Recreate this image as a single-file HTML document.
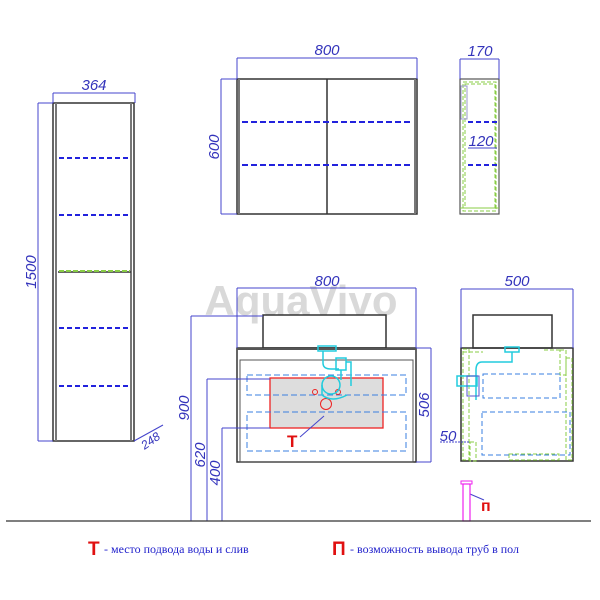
<!DOCTYPE html>
<html><head><meta charset="utf-8"><style>
html,body{margin:0;padding:0;background:#fff;}
svg{display:block;font-family:"Liberation Sans",sans-serif;}
</style></head><body>
<svg width="600" height="600" viewBox="0 0 600 600">
<text x="301" y="315" font-size="42" font-weight="bold" fill="#d9d9d9" text-anchor="middle">AquaVivo</text>
<g fill="none" stroke-width="1">
<rect x="53" y="103" width="81" height="338" stroke="#333" stroke-width="1.5"/>
<line x1="56" y1="103" x2="56" y2="441" stroke="#777" stroke-width="2"/>
<line x1="131" y1="103" x2="131" y2="441" stroke="#777" stroke-width="2"/>
<g stroke="#2222dd" stroke-width="2" stroke-dasharray="5,3">
<line x1="59" y1="158" x2="130" y2="158"/><line x1="59" y1="215" x2="130" y2="215"/>
<line x1="59" y1="328" x2="130" y2="328"/><line x1="59" y1="386" x2="130" y2="386"/></g>
<line x1="58" y1="272" x2="131" y2="272" stroke="#333" stroke-width="1.5"/>
<line x1="59" y1="271" x2="130" y2="271" stroke="#8c4" stroke-width="2" stroke-dasharray="5,2"/>
<g stroke="#4444cc"><line x1="53" y1="93" x2="135" y2="93"/><line x1="53" y1="93" x2="53" y2="103"/><line x1="135" y1="93" x2="135" y2="103"/>
<line x1="38" y1="103" x2="38" y2="441"/><line x1="38" y1="103" x2="53" y2="103"/><line x1="38" y1="441" x2="53" y2="441"/>
<line x1="134" y1="441" x2="163" y2="425"/></g>
<rect x="237" y="79" width="180" height="135" stroke="#333" stroke-width="1.5"/>
<line x1="239" y1="79" x2="239" y2="214" stroke="#777" stroke-width="2"/>
<line x1="415" y1="79" x2="415" y2="214" stroke="#777" stroke-width="2"/>
<line x1="327" y1="79" x2="327" y2="214" stroke="#333" stroke-width="1.5"/>
<g stroke="#2222dd" stroke-width="2" stroke-dasharray="6,3">
<line x1="242" y1="122" x2="412" y2="122"/><line x1="242" y1="165" x2="412" y2="165"/></g>
<g stroke="#4444cc"><line x1="237" y1="58" x2="417" y2="58"/><line x1="237" y1="58" x2="237" y2="79"/><line x1="417" y1="58" x2="417" y2="79"/>
<line x1="221" y1="79" x2="221" y2="214"/><line x1="221" y1="79" x2="237" y2="79"/><line x1="221" y1="214" x2="237" y2="214"/></g>
<rect x="460" y="79" width="39" height="135" stroke="#555" stroke-width="1.2"/>
<rect x="463" y="82" width="33" height="129" stroke="#8c4" stroke-dasharray="4,2"/>
<rect x="465" y="84" width="30" height="124" stroke="#8c4" stroke-dasharray="4,2"/>
<rect x="461" y="86" width="6" height="33" stroke="#99c"/>
<line x1="460" y1="208" x2="499" y2="208" stroke="#8c4"/>
<g stroke="#2222dd" stroke-width="2" stroke-dasharray="5,3">
<line x1="468" y1="122" x2="497" y2="122"/><line x1="468" y1="165" x2="497" y2="165"/></g>
<g stroke="#4444cc"><line x1="460" y1="59" x2="499" y2="59"/><line x1="460" y1="59" x2="460" y2="79"/><line x1="499" y1="59" x2="499" y2="79"/>
<line x1="468" y1="148" x2="497" y2="148"/></g>
<rect x="263" y="315" width="123" height="33" stroke="#333" stroke-width="1.5"/>
<rect x="237" y="348" width="179" height="114" stroke="#333" stroke-width="1.5"/>
<line x1="237" y1="349" x2="416" y2="349" stroke="#555" stroke-width="2"/>
<rect x="240" y="360" width="173" height="102" stroke="#555"/>
<rect x="270" y="378" width="113" height="50" fill="#ddd" stroke="#e22" stroke-width="1.3"/>
<g stroke="#3a7fe0" stroke-dasharray="6,3">
<rect x="247" y="375" width="159" height="20"/><rect x="247" y="412" width="159" height="39"/></g>
<circle cx="315" cy="392" r="2.5" stroke="#e22"/><circle cx="338" cy="392" r="2.5" stroke="#e22"/>
<circle cx="326" cy="404" r="5.5" stroke="#e22"/>
<g stroke="#22ccdd" stroke-width="1.5">
<rect x="318" y="346" width="18" height="5"/><path d="M323 351 v12 q0 6 8 6 h8"/>
<rect x="336" y="358" width="10" height="12"/><path d="M341 370 v10 M346 362 h5 v24"/>
<circle cx="331" cy="385" r="9"/><path d="M322 385 v10 q10 8 25 0"/></g>
<g stroke="#4444cc">
<line x1="237" y1="288" x2="416" y2="288"/><line x1="237" y1="288" x2="237" y2="348"/><line x1="416" y1="288" x2="416" y2="348"/>
<line x1="191" y1="316" x2="263" y2="316"/><line x1="191" y1="316" x2="191" y2="521"/>
<line x1="207" y1="379" x2="270" y2="379"/><line x1="207" y1="379" x2="207" y2="521"/>
<line x1="222" y1="428" x2="270" y2="428"/><line x1="222" y1="428" x2="222" y2="521"/>
<line x1="416" y1="348" x2="431" y2="348"/><line x1="416" y1="462" x2="431" y2="462"/><line x1="431" y1="348" x2="431" y2="462"/>
<line x1="300" y1="437" x2="324" y2="416"/></g>
<rect x="473" y="315" width="79" height="33" stroke="#333" stroke-width="1.5"/>
<rect x="461" y="348" width="112" height="113" stroke="#333" stroke-width="1.5"/>
<g stroke="#8c4" stroke-dasharray="4,2">
<rect x="463" y="349" width="6" height="111"/><rect x="560" y="350" width="6" height="25"/><rect x="566" y="358" width="6" height="102"/>
<rect x="470" y="442" width="6" height="19"/><rect x="509" y="454" width="50" height="6"/><path d="M463 352 h20 M544 350 h18"/></g>
<g stroke="#3a7fe0" stroke-dasharray="5,3">
<rect x="483" y="374" width="77" height="24"/><rect x="482" y="412" width="88" height="43"/></g>
<g stroke="#22ccdd" stroke-width="1.5">
<rect x="505" y="347" width="14" height="5"/><path d="M512 352 v10 h-30 q-6 0 -6 8 v30"/>
<rect x="457" y="376" width="20" height="10"/></g>
<rect x="467" y="376" width="12" height="20" stroke="#55c"/>
<g stroke="#4444cc"><line x1="461" y1="289" x2="573" y2="289"/><line x1="461" y1="289" x2="461" y2="348"/><line x1="573" y1="289" x2="573" y2="348"/>
<line x1="440" y1="442" x2="470" y2="442" stroke-dasharray="2,1"/>
<line x1="470" y1="494" x2="484" y2="500"/></g>
<rect x="463" y="484" width="7" height="37" stroke="#e2e" stroke-width="1.2"/>
<rect x="461" y="481" width="11" height="3" stroke="#e2e"/>
<line x1="6" y1="521" x2="591" y2="521" stroke="#333" stroke-width="1.3"/>
</g>
<g fill="#3333bb" font-size="15" font-style="italic" text-anchor="middle">
<text x="94" y="90">364</text>
<text x="36" y="272" transform="rotate(-90 36 272)">1500</text>
<text x="150" y="445" font-size="12" transform="rotate(-35 150 440)">248</text>
<text x="327" y="55">800</text>
<text x="219" y="147" transform="rotate(-90 219 147)">600</text>
<text x="480" y="56">170</text>
<text x="481" y="146">120</text>
<text x="327" y="286">800</text>
<text x="189" y="408" transform="rotate(-90 189 408)">900</text>
<text x="205" y="455" transform="rotate(-90 205 455)">620</text>
<text x="220" y="473" transform="rotate(-90 220 473)">400</text>
<text x="429" y="405" transform="rotate(-90 429 405)">506</text>
<text x="517" y="286">500</text>
<text x="448" y="441">50</text>
</g>
<g fill="#e01010" font-weight="bold">
<text x="287" y="447" font-size="17">T</text>
<text x="481" y="511" font-size="16">п</text>
<text x="88" y="555" font-size="19">T</text>
<text x="332" y="555" font-size="19">П</text>
</g>
<g fill="#2222cc" font-family="'Liberation Serif',serif" font-size="12">
<text x="104" y="553">- место подвода воды и слив</text>
<text x="350" y="553">- возможность вывода труб в пол</text>
</g>
</svg>
</body></html>
